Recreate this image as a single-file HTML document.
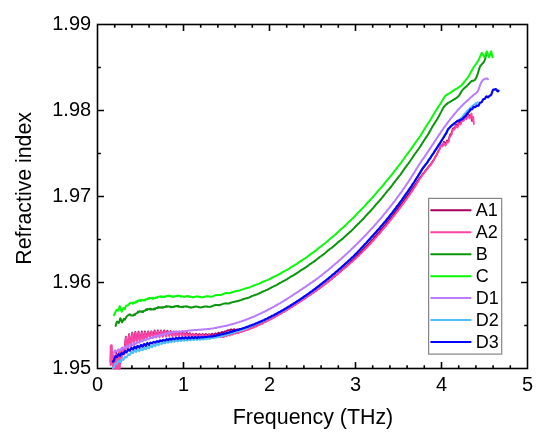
<!DOCTYPE html><html><head><meta charset="utf-8"><style>html,body{margin:0;padding:0;background:#fff;width:550px;height:440px;overflow:hidden}svg{display:block}text{font-family:"Liberation Sans",Arial,sans-serif;fill:#000}</style></head><body>
<svg width="550" height="440" viewBox="0 0 550 440">
<g stroke="#000" stroke-width="1.6" fill="none">
<rect x="97.50" y="24.50" width="430.00" height="344.00"/>
<path d="M114.70 368.50v-3.3M114.70 24.50v3.3M131.90 368.50v-3.3M131.90 24.50v3.3M149.10 368.50v-3.3M149.10 24.50v3.3M166.30 368.50v-3.3M166.30 24.50v3.3M183.50 368.50v-6.5M183.50 24.50v6.5M200.70 368.50v-3.3M200.70 24.50v3.3M217.90 368.50v-3.3M217.90 24.50v3.3M235.10 368.50v-3.3M235.10 24.50v3.3M252.30 368.50v-3.3M252.30 24.50v3.3M269.50 368.50v-6.5M269.50 24.50v6.5M286.70 368.50v-3.3M286.70 24.50v3.3M303.90 368.50v-3.3M303.90 24.50v3.3M321.10 368.50v-3.3M321.10 24.50v3.3M338.30 368.50v-3.3M338.30 24.50v3.3M355.50 368.50v-6.5M355.50 24.50v6.5M372.70 368.50v-3.3M372.70 24.50v3.3M389.90 368.50v-3.3M389.90 24.50v3.3M407.10 368.50v-3.3M407.10 24.50v3.3M424.30 368.50v-3.3M424.30 24.50v3.3M441.50 368.50v-6.5M441.50 24.50v6.5M458.70 368.50v-3.3M458.70 24.50v3.3M475.90 368.50v-3.3M475.90 24.50v3.3M493.10 368.50v-3.3M493.10 24.50v3.3M510.30 368.50v-3.3M510.30 24.50v3.3M97.50 67.50h3.3M527.50 67.50h-3.3M97.50 110.50h6.5M527.50 110.50h-6.5M97.50 153.50h3.3M527.50 153.50h-3.3M97.50 196.50h6.5M527.50 196.50h-6.5M97.50 239.50h3.3M527.50 239.50h-3.3M97.50 282.50h6.5M527.50 282.50h-6.5M97.50 325.50h3.3M527.50 325.50h-3.3"/>
</g>
<g fill="none" stroke-linejoin="round" stroke-linecap="round">
<path d="M116.2 351.9 L117.8 362.6 L119.4 351.1 L121.0 359.9 L122.6 348.3 L124.2 354.1 L125.8 336.6 L127.4 348.8 L129.0 334.1 L130.6 346.0 L132.2 332.7 L133.8 343.7 L135.4 331.9 L137.0 342.0 L138.6 331.7 L140.2 340.6 L141.8 331.4 L143.4 339.2 L145.0 331.4 L146.6 338.3 L148.2 331.4 L149.8 337.2 L151.4 331.3 L153.0 336.6 L154.6 330.4 L156.2 336.5 L157.8 330.4 L159.4 335.7 L161.0 330.4 L162.6 335.8 L164.2 330.3 L165.8 335.4 L167.4 330.6 L169.0 335.3 L170.6 331.0 L172.2 335.1 L173.8 331.4 L175.4 335.0 L177.0 331.5 L178.6 335.3 L180.2 331.9 L181.8 335.2 L183.4 332.3 L185.0 335.2 L186.6 332.6 L188.2 335.1 L189.8 333.1 L191.4 335.5 L193.0 333.6 L194.6 335.4 L196.2 333.6 L197.8 335.3 L199.4 333.9 L201.0 335.5 L202.6 333.8 L204.2 335.4 L205.8 334.0 L207.4 335.3 L209.0 334.1 L210.6 335.1 L212.2 333.6 L213.8 335.0 L215.4 333.4 L217.0 334.2 L218.6 332.6 L220.2 333.5 L221.8 332.0 L222.3 332.0 L223.1 332.3 L223.9 332.4 L224.7 331.3 L225.5 331.4 L226.3 331.5 L227.1 330.7 L227.9 330.2 L228.7 330.1 L229.5 330.7 L230.3 329.8 L231.1 329.3 L231.9 329.9 L232.7 330.4 L233.5 329.3 L234.3 329.2 L235.1 330.0 L235.9 330.2 L236.7 329.4 L237.5 329.3 L238.3 330.2 L239.1 329.3 L239.9 329.1 L240.7 329.2 L241.5 329.3 L242.3 328.9 L243.1 328.7 L243.9 328.8 L244.7 328.7 L245.5 328.4 L246.3 328.1 L247.1 328.1 L247.9 327.9 L248.7 327.4 L249.5 327.3 L250.3 327.3 L251.1 327.0 L251.9 326.5 L252.7 326.4 L253.5 326.4 L254.3 325.9 L255.1 325.4 L255.9 325.4 L256.7 325.2 L257.5 324.6 L258.3 324.3 L259.1 324.2 L259.9 323.9 L260.7 323.4 L261.5 323.0 L262.3 323.0 L263.1 322.4 L263.9 321.9 L264.7 321.7 L265.5 321.5 L266.3 320.9 L267.1 320.3 L267.9 320.3 L268.7 320.0 L269.5 319.3 L270.3 318.9 L271.1 318.7 L271.9 318.3 L272.7 317.7 L273.5 317.3 L274.3 317.1 L275.1 316.6 L275.9 316.0 L276.7 315.6 L277.5 315.4 L278.3 314.7 L279.1 314.2 L279.9 313.9 L280.7 313.6 L281.5 312.9 L282.3 312.3 L283.1 312.1 L283.9 311.7 L284.7 310.9 L285.5 310.5 L286.3 310.2 L287.1 309.6 L287.9 308.9 L288.7 308.7 L289.5 308.3 L290.3 307.6 L291.1 307.0 L291.9 306.8 L292.7 306.2 L293.5 305.6 L294.3 305.1 L295.1 304.8 L295.9 304.3 L296.7 303.6 L297.5 303.0 L298.3 302.7 L299.1 302.1 L299.9 301.4 L300.7 301.1 L301.5 300.6 L302.3 299.9 L303.1 299.2 L303.9 298.9 L304.7 298.6 L305.5 297.8 L306.3 297.2 L307.1 296.8 L307.9 296.3 L308.7 295.6 L309.5 295.1 L310.3 294.9 L311.1 294.2 L311.9 293.4 L312.7 293.0 L313.5 292.7 L314.3 291.8 L315.1 291.2 L315.9 290.8 L316.7 290.4 L317.5 289.6 L318.3 288.9 L319.1 288.5 L319.9 287.9 L320.7 287.2 L321.5 286.6 L322.3 286.2 L323.1 285.5 L323.9 284.7 L324.7 284.3 L325.5 283.9 L326.3 283.0 L327.1 282.3 L327.9 281.9 L328.7 281.4 L329.5 280.5 L330.3 280.0 L331.1 279.5 L331.9 278.8 L332.7 277.9 L333.5 277.3 L334.3 276.8 L335.1 276.0 L335.9 275.2 L336.7 274.7 L337.5 274.1 L338.3 273.2 L339.1 272.3 L339.9 271.8 L340.7 271.2 L341.5 270.3 L342.3 269.6 L343.1 269.0 L343.9 268.3 L344.7 267.5 L345.5 266.7 L346.3 266.1 L347.1 265.3 L347.9 264.3 L348.7 263.8 L349.5 263.3 L350.3 262.3 L351.1 261.4 L351.9 260.7 L352.7 260.1 L353.5 259.1 L354.3 258.3 L355.1 257.7 L355.9 257.0 L356.7 255.9 L357.5 255.1 L358.3 254.6 L359.1 253.7 L359.9 252.7 L360.7 252.0 L361.5 251.4 L362.3 250.4 L363.1 249.3 L363.9 248.7 L364.7 248.0 L365.5 246.9 L366.3 246.0 L367.1 245.4 L367.9 244.6 L368.7 243.6 L369.5 242.8 L370.3 242.1 L371.1 241.2 L371.9 240.1 L372.7 239.4 L373.5 238.6 L374.3 237.4 L375.1 236.4 L375.9 235.7 L376.7 234.9 L377.5 233.8 L378.3 232.9 L379.1 232.2 L379.9 231.2 L380.7 230.0 L381.5 229.2 L382.3 228.3 L383.1 227.3 L383.9 226.2 L384.7 225.4 L385.5 224.6 L386.3 223.4 L387.1 222.2 L387.9 221.5 L388.7 220.5 L389.5 219.4 L390.3 218.4 L391.1 217.5 L391.9 216.4 L392.7 215.3 L393.5 214.3 L394.3 213.3 L395.1 212.2 L395.9 210.9 L396.7 210.2 L397.5 209.3 L398.3 207.9 L399.1 206.8 L399.9 206.0 L400.7 204.9 L401.5 203.6 L402.3 202.5 L403.1 201.5 L403.9 200.4 L404.7 199.2 L405.5 198.1 L406.3 197.2 L407.1 196.0 L407.9 194.6 L408.7 193.7 L409.5 192.8 L410.3 191.4 L411.1 190.1 L411.9 189.2 L412.7 188.3 L413.5 187.0 L414.3 185.8 L415.1 184.9 L415.9 183.7 L416.7 182.5 L417.5 181.2 L418.3 180.3 L419.1 179.1 L419.9 177.8 L420.7 176.7 L421.5 176.0 L422.3 174.6 L423.1 173.4 L423.9 172.7 L424.7 171.7 L425.5 170.6 L426.3 169.5 L427.1 168.6 L427.9 167.8 L428.7 166.5 L429.5 165.7 L430.3 165.0 L431.1 163.8 L431.9 162.4 L432.7 161.4 L433.5 160.3 L434.3 158.8 L435.1 157.1 L435.9 156.0 L436.7 154.6 L437.5 152.8 L438.3 151.3 L439.1 149.9 L439.9 148.4 L440.7 145.9 L441.5 145.2 L442.3 145.9 L443.1 144.3 L443.9 141.8 L444.7 142.9 L445.5 144.7 L446.3 142.4 L447.1 140.4 L447.9 141.2 L448.7 140.6 L449.5 136.5 L450.3 134.3 L451.1 134.4 L451.9 132.1 L452.7 128.8 L453.5 128.1 L454.3 129.0 L455.1 126.8 L455.9 124.3 L456.7 125.3 L457.5 126.4 L458.3 123.9 L459.1 121.6 L459.9 123.1 L460.7 123.3 L461.5 120.6 L462.3 118.9 L463.1 120.4 L463.9 119.7 L464.7 116.7 L465.5 117.0 L466.3 118.3 L467.1 116.3 L467.9 114.2 L468.7 114.7 L469.5 116.4 L470.3 115.5 L471.1 116.2 L471.9 120.8" stroke="#a6005c" stroke-width="1.80"/>
<path d="M110.6 362.0 L110.9 346.0 L111.6 345.5 L112.2 364.0 L112.6 353.0 L113.0 355.2 L114.3 368.6 L115.6 355.1 L116.9 368.3 L118.2 356.0 L119.5 368.8 L120.8 350.9" stroke="#ff44a6" stroke-width="2.30"/>
<path d="M110.5 365.0 L111.1 345.5 L111.7 364.0 L112.3 352.0 L112.9 368.0 L113.2 355.9 L114.8 368.0 L116.4 354.8 L118.0 368.0 L119.6 351.0 L121.2 361.6 L122.8 347.5 L124.4 354.6 L126.0 337.0 L127.6 349.7 L129.2 334.4 L130.8 346.7 L132.4 333.1 L134.0 344.7 L135.6 332.9 L137.2 342.6 L138.8 332.7 L140.4 341.6 L142.0 332.3 L143.6 340.1 L145.2 332.1 L146.8 338.9 L148.4 332.2 L150.0 338.0 L151.6 331.6 L153.2 337.7 L154.8 331.1 L156.4 337.5 L158.0 331.1 L159.6 337.3 L161.2 330.9 L162.8 336.9 L164.4 331.2 L166.0 336.7 L167.6 331.4 L169.2 336.3 L170.8 332.0 L172.4 336.6 L174.0 332.2 L175.6 336.4 L177.2 332.2 L178.8 336.1 L180.4 332.5 L182.0 336.0 L183.6 333.2 L185.2 336.3 L186.8 333.5 L188.4 336.4 L190.0 333.9 L191.6 336.8 L193.2 333.7 L194.8 336.5 L196.4 334.4 L198.0 336.8 L199.6 334.7 L201.2 336.8 L202.8 334.3 L204.4 337.0 L206.0 334.9 L207.6 336.9 L209.2 334.7 L210.8 337.1 L212.4 335.3 L214.0 337.5 L215.6 335.0 L217.2 337.3 L218.8 335.2 L220.4 337.3 L222.0 335.9 L222.3 336.9 L223.1 337.3 L223.9 336.9 L224.7 336.0 L225.5 335.7 L226.3 336.4 L227.1 335.7 L227.9 335.1 L228.7 335.1 L229.5 335.6 L230.3 334.6 L231.1 334.3 L231.9 334.6 L232.7 334.5 L233.5 333.8 L234.3 333.6 L235.1 333.6 L235.9 333.6 L236.7 333.1 L237.5 332.7 L238.3 333.3 L239.1 332.8 L239.9 332.1 L240.7 332.1 L241.5 332.0 L242.3 331.7 L243.1 331.3 L243.9 331.2 L244.7 330.9 L245.5 330.5 L246.3 330.2 L247.1 330.1 L247.9 329.9 L248.7 329.3 L249.5 329.0 L250.3 329.0 L251.1 328.5 L251.9 328.1 L252.7 327.9 L253.5 327.7 L254.3 327.2 L255.1 326.7 L255.9 326.6 L256.7 326.4 L257.5 325.7 L258.3 325.3 L259.1 325.2 L259.9 324.8 L260.7 324.2 L261.5 323.8 L262.3 323.8 L263.1 323.2 L263.9 322.5 L264.7 322.4 L265.5 322.2 L266.3 321.5 L267.1 321.0 L267.9 320.7 L268.7 320.4 L269.5 319.9 L270.3 319.4 L271.1 319.1 L271.9 318.8 L272.7 318.0 L273.5 317.7 L274.3 317.6 L275.1 317.0 L275.9 316.3 L276.7 316.0 L277.5 315.7 L278.3 315.0 L279.1 314.6 L279.9 314.2 L280.7 313.9 L281.5 313.3 L282.3 312.7 L283.1 312.5 L283.9 311.9 L284.7 311.4 L285.5 310.9 L286.3 310.6 L287.1 310.1 L287.9 309.3 L288.7 309.0 L289.5 308.7 L290.3 308.0 L291.1 307.3 L291.9 307.1 L292.7 306.6 L293.5 305.9 L294.3 305.4 L295.1 305.0 L295.9 304.6 L296.7 303.9 L297.5 303.3 L298.3 303.0 L299.1 302.4 L299.9 301.7 L300.7 301.3 L301.5 301.0 L302.3 300.3 L303.1 299.7 L303.9 299.2 L304.7 298.8 L305.5 298.2 L306.3 297.5 L307.1 297.1 L307.9 296.6 L308.7 295.8 L309.5 295.3 L310.3 295.0 L311.1 294.3 L311.9 293.6 L312.7 293.1 L313.5 292.8 L314.3 292.1 L315.1 291.4 L315.9 290.9 L316.7 290.5 L317.5 289.6 L318.3 289.0 L319.1 288.7 L319.9 288.1 L320.7 287.3 L321.5 286.7 L322.3 286.2 L323.1 285.6 L323.9 284.7 L324.7 284.3 L325.5 284.0 L326.3 283.1 L327.1 282.4 L327.9 281.9 L328.7 281.5 L329.5 280.7 L330.3 279.8 L331.1 279.4 L331.9 278.9 L332.7 278.0 L333.5 277.4 L334.3 277.0 L335.1 276.2 L335.9 275.3 L336.7 274.8 L337.5 274.3 L338.3 273.5 L339.1 272.6 L339.9 272.2 L340.7 271.7 L341.5 270.7 L342.3 270.1 L343.1 269.5 L343.9 268.9 L344.7 268.1 L345.5 267.4 L346.3 267.0 L347.1 266.2 L347.9 265.3 L348.7 264.7 L349.5 264.3 L350.3 263.3 L351.1 262.5 L351.9 262.1 L352.7 261.5 L353.5 260.5 L354.3 259.7 L355.1 259.2 L355.9 258.5 L356.7 257.4 L357.5 256.8 L358.3 256.3 L359.1 255.4 L359.9 254.4 L360.7 253.8 L361.5 253.1 L362.3 252.2 L363.1 251.1 L363.9 250.6 L364.7 250.0 L365.5 248.8 L366.3 248.0 L367.1 247.3 L367.9 246.6 L368.7 245.4 L369.5 244.7 L370.3 244.0 L371.1 243.1 L371.9 241.9 L372.7 241.2 L373.5 240.6 L374.3 239.5 L375.1 238.4 L375.9 237.7 L376.7 236.9 L377.5 235.8 L378.3 234.8 L379.1 234.2 L379.9 233.3 L380.7 232.2 L381.5 231.2 L382.3 230.4 L383.1 229.3 L383.9 228.3 L384.7 227.4 L385.5 226.7 L386.3 225.5 L387.1 224.4 L387.9 223.6 L388.7 222.7 L389.5 221.5 L390.3 220.4 L391.1 219.7 L391.9 218.6 L392.7 217.4 L393.5 216.4 L394.3 215.7 L395.1 214.5 L395.9 213.3 L396.7 212.4 L397.5 211.6 L398.3 210.4 L399.1 209.1 L399.9 208.2 L400.7 207.3 L401.5 206.0 L402.3 204.9 L403.1 204.1 L403.9 202.9 L404.7 201.6 L405.5 200.5 L406.3 199.7 L407.1 198.5 L407.9 197.1 L408.7 196.3 L409.5 195.3 L410.3 193.9 L411.1 192.6 L411.9 191.6 L412.7 190.5 L413.5 189.1 L414.3 187.8 L415.1 186.9 L415.9 185.5 L416.7 184.0 L417.5 182.8 L418.3 181.6 L419.1 180.3 L419.9 178.9 L420.7 177.8 L421.5 176.9 L422.3 175.4 L423.1 174.2 L423.9 173.2 L424.7 172.3 L425.5 171.1 L426.3 170.0 L427.1 169.2 L427.9 168.3 L428.7 167.1 L429.5 166.2 L430.3 165.6 L431.1 164.5 L431.9 163.0 L432.7 162.0 L433.5 160.8 L434.3 159.2 L435.1 157.8 L435.9 156.4 L436.7 155.2 L437.5 153.4 L438.3 151.8 L439.1 150.4 L439.9 148.8 L440.7 146.1 L441.5 145.5 L442.3 146.5 L443.1 145.4 L443.9 143.0 L444.7 144.2 L445.5 145.6 L446.3 143.6 L447.1 141.5 L447.9 142.6 L448.7 141.7 L449.5 137.9 L450.3 135.4 L451.1 135.4 L451.9 133.6 L452.7 129.7 L453.5 129.1 L454.3 129.7 L455.1 128.2 L455.9 125.5 L456.7 126.8 L457.5 127.6 L458.3 125.5 L459.1 123.3 L459.9 124.1 L460.7 124.5 L461.5 121.3 L462.3 120.1 L463.1 121.2 L463.9 120.5 L464.7 117.9 L465.5 118.2 L466.3 119.1 L467.1 117.8 L467.9 115.3 L468.7 116.4 L469.5 118.3 L471.5 113.5 L472.5 121.0 L473.3 117.0 L473.8 124.0" stroke="#ff44a6" stroke-width="1.80"/>
<path d="M115.7 325.9 L116.4 323.0 L117.1 321.6 L118.9 323.0 L120.3 318.2 L122.1 322.4 L123.9 318.8 L125.0 319.7 L126.2 317.1 L128.0 315.3 L129.8 314.3 L131.2 315.6 L132.5 315.4 L133.3 315.4 L134.1 314.3 L134.9 315.0 L135.7 313.7 L136.5 313.3 L137.3 312.9 L138.1 311.5 L138.9 312.2 L139.7 311.2 L140.5 311.6 L141.3 311.9 L142.1 311.1 L142.9 312.2 L143.7 311.0 L144.5 310.8 L145.3 310.6 L146.1 309.2 L146.9 310.1 L147.7 308.9 L148.5 309.1 L149.3 309.4 L150.1 308.6 L150.9 309.7 L151.7 309.1 L152.5 309.4 L153.3 309.6 L154.1 308.6 L154.9 309.3 L155.7 308.2 L156.5 308.0 L157.3 308.1 L158.1 307.1 L158.9 307.8 L159.7 307.2 L160.5 307.5 L161.3 307.7 L162.1 307.1 L162.9 307.9 L163.7 307.1 L164.5 307.0 L165.3 307.0 L166.1 306.0 L166.9 306.9 L167.7 306.2 L168.5 306.4 L169.3 306.7 L170.1 306.4 L170.9 307.3 L171.7 306.8 L172.5 306.9 L173.3 307.0 L174.1 306.4 L174.9 306.7 L175.7 306.2 L176.5 306.1 L177.3 306.4 L178.1 305.9 L178.9 306.9 L179.7 306.6 L180.5 306.9 L181.3 307.1 L182.1 306.7 L182.9 307.2 L183.7 306.6 L184.5 306.6 L185.3 306.6 L186.1 306.3 L186.9 306.8 L187.7 306.5 L188.5 307.0 L189.3 307.4 L190.1 307.2 L190.9 307.7 L191.7 307.4 L192.5 307.3 L193.3 307.2 L194.1 306.7 L194.9 306.9 L195.7 306.5 L196.5 306.6 L197.3 306.8 L198.1 306.8 L198.9 307.3 L199.7 307.2 L200.5 307.4 L201.3 307.4 L202.1 307.1 L202.9 307.0 L203.7 306.7 L204.5 306.5 L205.3 306.5 L206.1 306.4 L206.9 306.7 L207.7 306.6 L208.5 306.8 L209.3 306.9 L210.1 306.7 L210.9 306.7 L211.7 306.3 L212.5 306.0 L213.3 305.7 L214.1 305.3 L214.9 305.2 L215.7 305.0 L216.5 305.0 L217.3 305.1 L218.1 305.0 L218.9 305.2 L219.7 305.0 L220.5 304.8 L221.3 304.6 L222.1 304.1 L222.9 303.9 L223.7 303.6 L224.5 303.4 L225.3 303.4 L226.1 303.3 L226.9 303.6 L227.7 303.5 L228.5 303.5 L229.3 303.4 L230.1 302.8 L230.9 302.8 L231.7 302.4 L232.5 302.2 L233.3 302.1 L234.1 301.7 L234.9 301.7 L235.7 301.4 L236.5 301.3 L237.3 301.2 L238.1 300.9 L238.9 300.8 L239.7 300.4 L240.5 300.2 L241.3 299.9 L242.1 299.5 L242.9 299.4 L243.7 299.0 L244.5 298.8 L245.3 298.6 L246.1 298.3 L246.9 298.3 L247.7 297.9 L248.5 297.7 L249.3 297.4 L250.1 296.9 L250.9 296.7 L251.7 296.2 L252.5 295.9 L253.3 295.6 L254.1 295.2 L254.9 295.2 L255.7 294.7 L256.5 294.5 L257.3 294.2 L258.1 293.8 L258.9 293.6 L259.7 293.0 L260.5 292.7 L261.3 292.3 L262.1 291.8 L262.9 291.6 L263.7 291.1 L264.5 290.9 L265.3 290.6 L266.1 290.1 L266.9 290.0 L267.7 289.5 L268.5 289.1 L269.3 288.7 L270.1 288.1 L270.9 287.9 L271.7 287.3 L272.5 286.9 L273.3 286.6 L274.1 286.1 L274.9 285.9 L275.7 285.4 L276.5 285.1 L277.3 284.7 L278.1 284.1 L278.9 283.7 L279.7 283.2 L280.5 282.7 L281.3 282.3 L282.1 281.7 L282.9 281.5 L283.7 280.9 L284.5 280.6 L285.3 280.2 L286.1 279.6 L286.9 279.4 L287.7 278.7 L288.5 278.2 L289.3 277.8 L290.1 277.1 L290.9 276.7 L291.7 276.2 L292.5 275.8 L293.3 275.4 L294.1 274.8 L294.9 274.5 L295.7 273.9 L296.5 273.4 L297.3 272.9 L298.1 272.2 L298.9 271.8 L299.7 271.1 L300.5 270.6 L301.3 270.2 L302.1 269.5 L302.9 269.3 L303.7 268.7 L304.5 268.2 L305.3 267.7 L306.1 267.0 L306.9 266.6 L307.7 265.9 L308.5 265.3 L309.3 264.7 L310.1 264.0 L310.9 263.6 L311.7 263.0 L312.5 262.5 L313.3 262.1 L314.1 261.4 L314.9 261.0 L315.7 260.2 L316.5 259.6 L317.3 259.0 L318.1 258.2 L318.9 257.8 L319.7 257.0 L320.5 256.5 L321.3 256.0 L322.1 255.3 L322.9 254.9 L323.7 254.1 L324.5 253.6 L325.3 252.9 L326.1 252.1 L326.9 251.6 L327.7 250.8 L328.5 250.1 L329.3 249.5 L330.1 248.7 L330.9 248.3 L331.7 247.7 L332.5 247.1 L333.3 246.5 L334.1 245.7 L334.9 245.2 L335.7 244.4 L336.5 243.8 L337.3 243.1 L338.1 242.2 L338.9 241.7 L339.7 240.9 L340.5 240.4 L341.3 239.8 L342.1 239.0 L342.9 238.6 L343.7 237.7 L344.5 237.0 L345.3 236.3 L346.1 235.4 L346.9 234.8 L347.7 233.9 L348.5 233.3 L349.3 232.6 L350.1 231.8 L350.9 231.3 L351.7 230.4 L352.5 229.7 L353.3 229.0 L354.1 228.0 L354.9 227.3 L355.7 226.3 L356.5 225.5 L357.3 224.7 L358.1 223.8 L358.9 223.3 L359.7 222.3 L360.5 221.6 L361.3 220.9 L362.1 219.9 L362.9 219.3 L363.7 218.3 L364.5 217.4 L365.3 216.5 L366.1 215.5 L366.9 214.8 L367.7 213.8 L368.5 213.0 L369.3 212.3 L370.1 211.3 L370.9 210.6 L371.7 209.6 L372.5 208.7 L373.3 207.9 L374.1 206.8 L374.9 206.0 L375.7 204.8 L376.5 204.0 L377.3 203.1 L378.1 202.1 L378.9 201.4 L379.7 200.4 L380.5 199.5 L381.3 198.7 L382.1 197.6 L382.9 196.7 L383.7 195.6 L384.5 194.6 L385.3 193.6 L386.1 192.5 L386.9 191.7 L387.7 190.6 L388.5 189.8 L389.3 188.9 L390.1 187.8 L390.9 187.0 L391.7 185.8 L392.5 184.8 L393.3 183.7 L394.1 182.5 L394.9 181.7 L395.7 180.5 L396.5 179.5 L397.3 178.6 L398.1 177.4 L398.9 176.6 L399.7 175.5 L400.5 174.5 L401.3 173.4 L402.1 172.1 L402.9 171.1 L403.7 169.8 L404.5 168.7 L405.3 167.7 L406.1 166.4 L406.9 165.5 L407.7 164.3 L408.5 163.3 L409.3 162.3 L410.1 161.0 L410.9 160.0 L411.7 158.7 L412.5 157.5 L413.3 156.4 L414.1 155.0 L414.9 154.0 L415.7 152.8 L416.5 151.8 L417.3 150.7 L418.1 149.5 L418.9 148.5 L419.7 147.2 L420.5 146.1 L421.3 144.9 L422.1 143.5 L422.9 142.4 L423.7 141.0 L424.5 139.8 L425.3 138.6 L426.1 137.3 L426.9 136.3 L427.7 134.9 L428.5 133.7 L429.3 132.2 L430.1 130.7 L430.9 129.4 L431.7 127.9 L432.5 126.6 L433.3 125.3 L434.1 123.9 L434.9 122.8 L435.7 121.4 L436.5 120.2 L437.3 119.0 L438.1 117.5 L438.9 116.3 L439.7 114.6 L440.5 113.1 L441.3 111.6 L442.1 109.9 L442.9 108.6 L443.7 107.2 L444.5 106.2 L445.3 105.3 L446.1 104.4 L446.9 104.0 L447.7 103.2 L448.5 102.7 L449.3 102.3 L450.1 101.7 L450.9 101.4 L451.7 100.8 L452.5 100.4 L453.3 99.9 L454.1 99.4 L454.9 99.0 L455.7 98.4 L456.5 97.9 L457.3 97.3 L458.1 96.5 L458.9 95.8 L459.7 94.6 L460.5 93.2 L461.3 91.8 L462.1 90.4 L462.9 89.6 L463.7 88.7 L464.5 88.0 L465.3 87.4 L466.1 86.5 L466.9 86.0 L467.7 85.1 L468.5 84.2 L469.3 83.4 L470.1 82.4 L470.9 81.7 L471.7 80.9 L472.5 80.7 L473.3 80.8 L474.1 80.5 L474.9 80.0 L475.7 78.6 L476.5 77.0 L477.3 75.2 L478.1 72.5 L478.9 69.9 L479.7 67.4 L480.5 65.8 L481.3 64.8 L482.1 63.9 L482.9 63.3 L483.7 62.1 L484.5 60.6 L485.3 58.6 L486.1 54.1 L486.9 54.7" stroke="#0a960a" stroke-width="2.00"/>
<path d="M113.9 315.2 L115.2 312.5 L116.6 309.9 L118.0 310.7 L119.8 306.1 L121.6 311.8 L123.5 307.9 L124.8 309.3 L126.0 305.7 L127.1 305.6 L128.5 304.9 L129.8 303.0 L130.6 303.2 L131.4 303.0 L132.2 302.6 L133.0 303.8 L133.8 302.4 L134.6 302.9 L135.4 302.6 L136.2 301.4 L137.0 302.1 L137.8 300.6 L138.6 300.9 L139.4 300.5 L140.2 299.7 L141.0 300.9 L141.8 299.7 L142.6 300.3 L143.4 300.4 L144.2 299.8 L145.0 300.6 L145.8 299.2 L146.6 299.4 L147.4 299.0 L148.2 298.1 L149.0 298.9 L149.8 297.8 L150.6 298.2 L151.4 298.2 L152.2 297.7 L153.0 299.0 L153.8 297.9 L154.6 298.2 L155.4 298.0 L156.2 297.3 L157.0 297.9 L157.8 296.7 L158.6 296.8 L159.4 296.8 L160.2 296.2 L161.0 297.2 L161.8 296.4 L162.6 297.0 L163.4 297.1 L164.2 296.5 L165.0 297.2 L165.8 296.0 L166.6 296.3 L167.4 296.2 L168.2 295.5 L169.0 296.3 L169.8 295.7 L170.6 296.3 L171.4 296.5 L172.2 296.2 L173.0 297.0 L173.8 296.3 L174.6 296.6 L175.4 296.3 L176.2 295.7 L177.0 296.3 L177.8 295.4 L178.6 295.7 L179.4 296.0 L180.2 296.0 L181.0 296.7 L181.8 296.3 L182.6 296.6 L183.4 296.7 L184.2 296.5 L185.0 296.9 L185.8 296.1 L186.6 296.3 L187.4 296.1 L188.2 296.0 L189.0 296.8 L189.8 296.5 L190.6 296.9 L191.4 297.1 L192.2 297.0 L193.0 297.5 L193.8 296.9 L194.6 297.0 L195.4 296.8 L196.2 296.4 L197.0 296.7 L197.8 296.4 L198.6 296.7 L199.4 296.9 L200.2 297.0 L201.0 297.3 L201.8 297.2 L202.6 297.2 L203.4 297.0 L204.2 296.7 L205.0 296.7 L205.8 296.3 L206.6 296.3 L207.4 296.3 L208.2 296.3 L209.0 296.6 L209.8 296.5 L210.6 296.7 L211.4 296.6 L212.2 296.4 L213.0 296.3 L213.8 295.8 L214.6 295.6 L215.4 295.3 L216.2 295.0 L217.0 295.1 L217.8 294.9 L218.6 295.1 L219.4 295.1 L220.2 294.9 L221.0 295.0 L221.8 294.6 L222.6 294.3 L223.4 294.0 L224.2 293.5 L225.0 293.4 L225.8 293.0 L226.6 293.0 L227.4 293.1 L228.2 293.0 L229.0 293.2 L229.8 293.0 L230.6 292.7 L231.4 292.5 L232.2 292.2 L233.0 292.1 L233.8 291.7 L234.6 291.5 L235.4 291.3 L236.2 291.0 L237.0 291.1 L237.8 290.7 L238.6 290.7 L239.4 290.5 L240.2 290.2 L241.0 290.1 L241.8 289.6 L242.6 289.4 L243.4 289.1 L244.2 288.7 L245.0 288.7 L245.8 288.3 L246.6 288.2 L247.4 287.9 L248.2 287.7 L249.0 287.6 L249.8 287.1 L250.6 286.9 L251.4 286.6 L252.2 286.1 L253.0 286.0 L253.8 285.4 L254.6 285.3 L255.4 284.9 L256.2 284.6 L257.0 284.6 L257.8 284.1 L258.6 283.9 L259.4 283.6 L260.2 283.1 L261.0 283.0 L261.8 282.3 L262.6 282.0 L263.4 281.6 L264.2 281.2 L265.0 281.1 L265.8 280.6 L266.6 280.4 L267.4 280.1 L268.2 279.6 L269.0 279.4 L269.8 278.9 L270.6 278.5 L271.4 278.1 L272.2 277.5 L273.0 277.3 L273.8 276.7 L274.6 276.4 L275.4 276.1 L276.2 275.6 L277.0 275.4 L277.8 274.8 L278.6 274.5 L279.4 274.1 L280.2 273.5 L281.0 273.2 L281.8 272.5 L282.6 272.2 L283.4 271.7 L284.2 271.2 L285.0 271.0 L285.8 270.4 L286.6 270.1 L287.4 269.6 L288.2 269.0 L289.0 268.7 L289.8 268.0 L290.6 267.6 L291.4 267.0 L292.2 266.4 L293.0 266.2 L293.8 265.5 L294.6 265.2 L295.4 264.7 L296.2 264.2 L297.0 263.8 L297.8 263.1 L298.6 262.7 L299.4 262.0 L300.2 261.4 L301.0 261.0 L301.8 260.3 L302.6 259.8 L303.4 259.3 L304.2 258.7 L305.0 258.5 L305.8 257.7 L306.6 257.3 L307.4 256.7 L308.2 255.9 L309.0 255.5 L309.8 254.7 L310.6 254.1 L311.4 253.6 L312.2 253.0 L313.0 252.6 L313.8 251.9 L314.6 251.4 L315.4 250.9 L316.2 250.2 L317.0 249.7 L317.8 248.8 L318.6 248.2 L319.4 247.6 L320.2 246.8 L321.0 246.4 L321.8 245.6 L322.6 245.1 L323.4 244.5 L324.2 243.8 L325.0 243.4 L325.8 242.6 L326.6 241.9 L327.4 241.3 L328.2 240.4 L329.0 239.9 L329.8 239.0 L330.6 238.4 L331.4 237.8 L332.2 237.1 L333.0 236.6 L333.8 235.8 L334.6 235.2 L335.4 234.5 L336.2 233.7 L337.0 233.1 L337.8 232.2 L338.6 231.4 L339.4 230.7 L340.2 229.9 L341.0 229.4 L341.8 228.5 L342.6 228.0 L343.4 227.2 L344.2 226.5 L345.0 225.8 L345.8 224.9 L346.6 224.2 L347.4 223.3 L348.2 222.4 L349.0 221.8 L349.8 220.9 L350.6 220.2 L351.4 219.6 L352.2 218.7 L353.0 218.2 L353.8 217.2 L354.6 216.5 L355.4 215.6 L356.2 214.7 L357.0 214.0 L357.8 212.9 L358.6 212.2 L359.4 211.4 L360.2 210.5 L361.0 209.9 L361.8 208.9 L362.6 208.2 L363.4 207.4 L364.2 206.5 L365.0 205.8 L365.8 204.7 L366.6 203.8 L367.4 203.0 L368.2 201.9 L369.0 201.3 L369.8 200.2 L370.6 199.5 L371.4 198.7 L372.2 197.8 L373.0 197.1 L373.8 195.9 L374.6 195.1 L375.4 194.1 L376.2 193.1 L377.0 192.3 L377.8 191.1 L378.6 190.3 L379.4 189.5 L380.2 188.5 L381.0 187.8 L381.8 186.7 L382.6 185.9 L383.4 184.9 L384.2 183.8 L385.0 183.0 L385.8 181.8 L386.6 180.8 L387.4 179.9 L388.2 178.8 L389.0 178.0 L389.8 177.0 L390.6 176.1 L391.4 175.2 L392.2 174.1 L393.0 173.2 L393.8 171.9 L394.6 170.9 L395.4 169.9 L396.2 168.8 L397.0 167.9 L397.8 166.7 L398.6 165.8 L399.4 164.8 L400.2 163.7 L401.0 162.9 L401.8 161.7 L402.6 160.6 L403.4 159.5 L404.2 158.3 L405.0 157.3 L405.8 156.0 L406.6 155.0 L407.4 153.9 L408.2 152.8 L409.0 152.0 L409.8 150.7 L410.6 149.7 L411.4 148.6 L412.2 147.4 L413.0 146.4 L413.8 144.9 L414.6 143.8 L415.4 142.7 L416.2 141.5 L417.0 140.6 L417.8 139.3 L418.6 138.3 L419.4 137.2 L420.2 136.0 L421.0 134.9 L421.8 133.4 L422.6 132.1 L423.4 130.8 L424.2 129.4 L425.0 128.3 L425.8 126.8 L426.6 125.7 L427.4 124.5 L428.2 123.2 L429.0 122.2 L429.8 120.7 L430.6 119.5 L431.4 118.2 L432.2 116.7 L433.0 115.6 L433.8 114.0 L434.6 112.8 L435.4 111.5 L436.2 110.2 L437.0 109.2 L437.8 107.7 L438.6 106.6 L439.4 105.3 L440.2 104.0 L441.0 102.9 L441.8 101.4 L442.6 100.1 L443.4 98.8 L444.2 97.4 L445.0 96.4 L445.8 95.4 L446.6 94.9 L447.4 94.4 L448.2 93.9 L449.0 93.6 L449.8 92.9 L450.6 92.6 L451.4 92.0 L452.2 91.4 L453.0 91.0 L453.8 90.3 L454.6 89.9 L455.4 89.4 L456.2 88.9 L457.0 88.6 L457.8 87.8 L458.6 87.4 L459.4 86.9 L460.2 86.2 L461.0 85.8 L461.8 84.9 L462.6 84.0 L463.4 83.1 L464.2 81.9 L465.0 81.1 L465.8 79.9 L466.6 79.1 L467.4 78.1 L468.2 76.8 L469.0 75.8 L469.8 74.1 L470.6 72.7 L471.4 71.2 L472.2 69.7 L473.0 68.5 L473.8 67.0 L474.6 66.0 L475.4 64.9 L476.2 63.7 L477.0 62.7 L477.8 61.2 L478.6 59.8 L479.4 58.2 L480.2 56.4 L481.0 54.8 L481.8 52.7 L484.4 57.3 L486.9 51.3 L489.0 57.3 L491.2 51.3 L492.5 57.3" stroke="#08fa08" stroke-width="2.00"/>
<path d="M113.5 354.3 L114.3 351.6 L115.1 350.4 L115.9 350.8 L116.7 351.4 L117.5 350.5 L118.3 349.4 L119.1 349.8 L119.9 350.4 L120.7 349.4 L121.5 348.1 L122.3 348.5 L123.1 349.0 L123.9 348.0 L124.7 346.7 L125.5 347.1 L126.3 347.6 L127.1 346.6 L127.9 345.4 L128.7 345.7 L129.5 346.3 L130.3 345.3 L131.1 344.1 L131.9 344.5 L132.7 345.1 L133.5 344.1 L134.3 342.9 L135.1 343.3 L135.9 343.9 L136.7 343.0 L137.5 341.8 L138.3 342.2 L139.1 342.8 L139.9 341.9 L140.7 341.1 L141.5 341.2 L142.3 341.4 L143.1 340.8 L143.9 340.0 L144.7 340.1 L145.5 340.3 L146.3 339.6 L147.1 338.8 L147.9 338.9 L148.7 339.2 L149.5 338.5 L150.3 337.7 L151.1 337.9 L151.9 338.1 L152.7 337.5 L153.5 336.8 L154.3 336.9 L155.1 337.2 L155.9 336.6 L156.7 335.8 L157.5 336.0 L158.3 336.2 L159.1 335.6 L159.9 334.9 L160.7 335.0 L161.5 335.3 L162.3 334.7 L163.1 334.0 L163.9 334.2 L164.7 334.5 L165.5 333.9 L166.3 333.2 L167.1 333.4 L167.9 333.7 L168.7 333.1 L169.5 332.5 L170.3 332.7 L171.1 333.0 L171.9 332.5 L172.7 331.9 L173.5 332.1 L174.3 332.5 L175.1 332.1 L175.9 331.5 L176.7 331.8 L177.5 332.2 L178.3 331.8 L179.1 331.2 L179.9 331.5 L180.7 332.0 L181.5 331.5 L182.3 331.0 L183.1 331.3 L183.9 331.7 L184.7 331.2 L185.5 331.0 L186.3 331.0 L187.1 331.0 L187.9 330.8 L188.7 330.6 L189.5 330.6 L190.3 330.6 L191.1 330.5 L191.9 330.3 L192.7 330.3 L193.5 330.3 L194.3 330.1 L195.1 330.0 L195.9 330.0 L196.7 330.0 L197.5 329.9 L198.3 329.7 L199.1 329.7 L199.9 329.8 L200.7 329.7 L201.5 329.5 L202.3 329.5 L203.1 329.6 L203.9 329.4 L204.7 329.2 L205.5 329.3 L206.3 329.3 L207.1 329.1 L207.9 329.0 L208.7 329.0 L209.5 329.0 L210.3 328.8 L211.1 328.6 L211.9 328.6 L212.7 328.6 L213.5 328.4 L214.3 328.1 L215.1 328.1 L215.9 328.0 L216.7 327.7 L217.5 327.4 L218.3 327.3 L219.1 327.3 L219.9 327.0 L220.7 326.8 L221.5 326.7 L222.3 326.6 L223.1 326.4 L223.9 326.2 L224.7 326.1 L225.5 326.0 L226.3 325.8 L227.1 325.5 L227.9 325.3 L228.7 325.2 L229.5 324.9 L230.3 324.6 L231.1 324.5 L231.9 324.3 L232.7 324.0 L233.5 323.7 L234.3 323.5 L235.1 323.4 L235.9 323.1 L236.7 322.7 L237.5 322.6 L238.3 322.4 L239.1 322.1 L239.9 321.7 L240.7 321.6 L241.5 321.4 L242.3 321.0 L243.1 320.7 L243.9 320.5 L244.7 320.3 L245.5 319.9 L246.3 319.5 L247.1 319.3 L247.9 319.1 L248.7 318.7 L249.5 318.3 L250.3 318.0 L251.1 317.8 L251.9 317.4 L252.7 317.0 L253.5 316.7 L254.3 316.5 L255.1 316.0 L255.9 315.6 L256.7 315.3 L257.5 315.0 L258.3 314.6 L259.1 314.1 L259.9 313.8 L260.7 313.6 L261.5 313.1 L262.3 312.6 L263.1 312.3 L263.9 312.0 L264.7 311.5 L265.5 311.0 L266.3 310.7 L267.1 310.4 L267.9 309.9 L268.7 309.4 L269.5 309.0 L270.3 308.7 L271.1 308.2 L271.9 307.7 L272.7 307.3 L273.5 307.0 L274.3 306.5 L275.1 305.9 L275.9 305.5 L276.7 305.2 L277.5 304.6 L278.3 304.1 L279.1 303.7 L279.9 303.3 L280.7 302.8 L281.5 302.2 L282.3 301.8 L283.1 301.4 L283.9 300.9 L284.7 300.3 L285.5 299.8 L286.3 299.5 L287.1 298.9 L287.9 298.3 L288.7 297.8 L289.5 297.4 L290.3 296.8 L291.1 296.2 L291.9 295.8 L292.7 295.4 L293.5 294.8 L294.3 294.1 L295.1 293.7 L295.9 293.2 L296.7 292.6 L297.5 292.0 L298.3 291.5 L299.1 291.1 L299.9 290.4 L300.7 289.8 L301.5 289.4 L302.3 289.0 L303.1 288.4 L303.9 287.7 L304.7 287.3 L305.5 286.8 L306.3 286.2 L307.1 285.6 L307.9 285.1 L308.7 284.7 L309.5 284.0 L310.3 283.4 L311.1 282.9 L311.9 282.4 L312.7 281.8 L313.5 281.1 L314.3 280.6 L315.1 280.2 L315.9 279.5 L316.7 278.8 L317.5 278.3 L318.3 277.8 L319.1 277.2 L319.9 276.5 L320.7 275.9 L321.5 275.4 L322.3 274.7 L323.1 274.0 L323.9 273.4 L324.7 272.8 L325.5 272.1 L326.3 271.4 L327.1 270.8 L327.9 270.2 L328.7 269.5 L329.5 268.7 L330.3 268.1 L331.1 267.6 L331.9 266.8 L332.7 266.0 L333.5 265.4 L334.3 264.8 L335.1 264.1 L335.9 263.3 L336.7 262.7 L337.5 262.1 L338.3 261.3 L339.1 260.5 L339.9 259.9 L340.7 259.3 L341.5 258.5 L342.3 257.6 L343.1 257.0 L343.9 256.4 L344.7 255.6 L345.5 254.7 L346.3 254.1 L347.1 253.4 L347.9 252.6 L348.7 251.8 L349.5 251.1 L350.3 250.4 L351.1 249.6 L351.9 248.7 L352.7 248.0 L353.5 247.4 L354.3 246.5 L355.1 245.6 L355.9 244.9 L356.7 244.3 L357.5 243.4 L358.3 242.5 L359.1 241.8 L359.9 241.1 L360.7 240.2 L361.5 239.3 L362.3 238.5 L363.1 237.8 L363.9 236.9 L364.7 236.0 L365.5 235.2 L366.3 234.5 L367.1 233.5 L367.9 232.6 L368.7 231.8 L369.5 231.0 L370.3 230.1 L371.1 229.1 L371.9 228.3 L372.7 227.5 L373.5 226.6 L374.3 225.6 L375.1 224.8 L375.9 224.0 L376.7 223.0 L377.5 222.0 L378.3 221.1 L379.1 220.3 L379.9 219.3 L380.7 218.3 L381.5 217.4 L382.3 216.6 L383.1 215.5 L383.9 214.5 L384.7 213.6 L385.5 212.7 L386.3 211.6 L387.1 210.6 L387.9 209.6 L388.7 208.7 L389.5 207.7 L390.3 206.6 L391.1 205.6 L391.9 204.7 L392.7 203.6 L393.5 202.4 L394.3 201.5 L395.1 200.5 L395.9 199.4 L396.7 198.2 L397.5 197.2 L398.3 196.2 L399.1 195.1 L399.9 193.9 L400.7 192.8 L401.5 191.8 L402.3 190.6 L403.1 189.3 L403.9 188.3 L404.7 187.2 L405.5 186.0 L406.3 184.7 L407.1 183.6 L407.9 182.5 L408.7 181.2 L409.5 179.9 L410.3 178.7 L411.1 177.6 L411.9 176.3 L412.7 174.9 L413.5 173.7 L414.3 172.6 L415.1 171.2 L415.9 169.8 L416.7 168.5 L417.5 167.3 L418.3 166.0 L419.1 164.6 L419.9 163.5 L420.7 162.4 L421.5 161.1 L422.3 159.8 L423.1 158.8 L423.9 157.7 L424.7 156.6 L425.5 155.3 L426.3 154.2 L427.1 153.0 L427.9 151.8 L428.7 150.4 L429.5 149.3 L430.3 148.2 L431.1 146.9 L431.9 145.6 L432.7 144.5 L433.5 143.4 L434.3 142.1 L435.1 140.8 L435.9 139.6 L436.7 138.5 L437.5 137.2 L438.3 135.9 L439.1 134.8 L439.9 133.7 L440.7 132.4 L441.5 131.1 L442.3 130.1 L443.1 129.0 L443.9 127.8 L444.7 126.6 L445.5 125.6 L446.3 124.6 L447.1 123.4 L447.9 122.2 L448.7 121.2 L449.5 120.3 L450.3 119.1 L451.1 118.0 L451.9 117.1 L452.7 116.2 L453.5 115.1 L454.3 114.0 L455.1 113.2 L455.9 112.3 L456.7 111.3 L457.5 110.3 L458.3 109.5 L459.1 108.7 L459.9 107.8 L460.7 106.8 L461.5 106.1 L462.3 105.4 L463.1 104.5 L463.9 103.6 L464.7 103.0 L465.5 102.3 L466.3 101.5 L467.1 100.7 L467.9 100.1 L468.7 99.4 L469.5 98.7 L470.3 97.8 L471.1 97.2 L471.9 96.6 L472.7 95.8 L473.5 95.0 L474.3 94.4 L475.1 93.9 L475.9 93.3 L476.7 92.6 L477.5 91.7 L478.3 90.2 L479.1 88.0 L479.9 85.7 L480.7 83.7 L481.5 82.0 L482.3 80.8 L483.1 79.9 L483.9 79.4 L484.7 79.1 L485.5 78.8 L486.3 78.5 L487.1 78.6 L487.9 79.3" stroke="#b97bff" stroke-width="2.00"/>
<path d="M113.0 367.8 L113.8 367.5 L114.6 365.2 L115.4 363.6 L116.2 363.9 L117.0 363.7 L117.8 361.7 L118.6 360.6 L119.4 361.5 L120.2 361.8 L121.0 360.1 L121.8 359.0 L122.6 359.8 L123.4 359.9 L124.2 358.0 L125.0 356.8 L125.8 357.5 L126.6 357.6 L127.4 355.7 L128.2 354.4 L129.0 355.0 L129.8 355.0 L130.6 353.1 L131.4 351.9 L132.2 352.8 L133.0 353.0 L133.8 351.4 L134.6 350.4 L135.4 351.5 L136.2 351.9 L137.0 350.4 L137.8 349.6 L138.6 350.7 L139.4 351.1 L140.2 349.6 L141.0 348.8 L141.8 349.9 L142.6 350.3 L143.4 348.7 L144.2 347.8 L145.0 348.9 L145.8 349.2 L146.6 347.7 L147.4 346.8 L148.2 347.8 L149.0 348.2 L149.8 346.6 L150.6 345.7 L151.4 346.8 L152.2 347.2 L153.0 345.6 L153.8 344.7 L154.6 345.7 L155.4 346.1 L156.2 344.6 L157.0 343.7 L157.8 344.7 L158.6 345.2 L159.4 343.7 L160.2 343.2 L161.0 343.8 L161.8 343.9 L162.6 343.0 L163.4 342.5 L164.2 343.1 L165.0 343.3 L165.8 342.4 L166.6 341.9 L167.4 342.5 L168.2 342.7 L169.0 341.8 L169.8 341.4 L170.6 341.9 L171.4 342.2 L172.2 341.3 L173.0 340.9 L173.8 341.5 L174.6 341.7 L175.4 340.9 L176.2 340.5 L177.0 341.1 L177.8 341.3 L178.6 340.5 L179.4 340.1 L180.2 340.7 L181.0 341.0 L181.8 340.2 L182.6 339.8 L183.4 340.4 L184.2 340.7 L185.0 340.0 L185.8 339.6 L186.6 340.2 L187.4 340.5 L188.2 339.7 L189.0 339.3 L189.8 340.0 L190.6 340.3 L191.4 339.5 L192.2 339.1 L193.0 339.8 L193.8 340.1 L194.6 339.3 L195.4 338.9 L196.2 339.6 L197.0 339.9 L197.8 339.2 L198.6 338.8 L199.4 339.5 L200.2 339.8 L201.0 339.1 L201.8 338.7 L202.6 339.3 L203.4 339.6 L204.2 338.9 L205.0 338.4 L205.8 339.0 L206.6 339.3 L207.4 338.5 L208.2 338.1 L209.0 338.7 L209.8 338.9 L210.6 338.2 L211.4 338.0 L212.2 338.0 L213.0 338.0 L213.8 337.7 L214.6 337.6 L215.4 337.5 L216.2 337.5 L217.0 337.2 L217.8 336.9 L218.6 336.9 L219.4 336.8 L220.2 336.5 L221.0 336.2 L221.8 336.1 L222.6 336.0 L223.4 335.6 L224.2 335.3 L225.0 335.2 L225.8 335.1 L226.6 334.7 L227.4 334.4 L228.2 334.3 L229.0 334.1 L229.8 333.8 L230.6 333.5 L231.4 333.3 L232.2 333.1 L233.0 332.7 L233.8 332.4 L234.6 332.3 L235.4 332.1 L236.2 331.7 L237.0 331.4 L237.8 331.2 L238.6 331.0 L239.4 330.7 L240.2 330.3 L241.0 330.2 L241.8 330.0 L242.6 329.6 L243.4 329.2 L244.2 329.0 L245.0 328.8 L245.8 328.4 L246.6 328.0 L247.4 327.8 L248.2 327.6 L249.0 327.2 L249.8 326.8 L250.6 326.6 L251.4 326.3 L252.2 325.9 L253.0 325.5 L253.8 325.3 L254.6 325.0 L255.4 324.5 L256.2 324.1 L257.0 323.9 L257.8 323.6 L258.6 323.1 L259.4 322.7 L260.2 322.4 L261.0 322.1 L261.8 321.6 L262.6 321.2 L263.4 320.9 L264.2 320.6 L265.0 320.1 L265.8 319.6 L266.6 319.4 L267.4 319.0 L268.2 318.5 L269.0 318.0 L269.8 317.7 L270.6 317.4 L271.4 316.8 L272.2 316.4 L273.0 316.1 L273.8 315.7 L274.6 315.1 L275.4 314.6 L276.2 314.3 L277.0 313.9 L277.8 313.4 L278.6 312.9 L279.4 312.5 L280.2 312.1 L281.0 311.6 L281.8 311.0 L282.6 310.7 L283.4 310.3 L284.2 309.7 L285.0 309.2 L285.8 308.8 L286.6 308.4 L287.4 307.8 L288.2 307.2 L289.0 306.9 L289.8 306.4 L290.6 305.8 L291.4 305.2 L292.2 304.9 L293.0 304.4 L293.8 303.8 L294.6 303.2 L295.4 302.8 L296.2 302.3 L297.0 301.7 L297.8 301.1 L298.6 300.7 L299.4 300.2 L300.2 299.6 L301.0 299.0 L301.8 298.6 L302.6 298.1 L303.4 297.4 L304.2 296.8 L305.0 296.3 L305.8 295.8 L306.6 295.2 L307.4 294.5 L308.2 294.1 L309.0 293.6 L309.8 292.9 L310.6 292.2 L311.4 291.8 L312.2 291.3 L313.0 290.6 L313.8 289.9 L314.6 289.4 L315.4 288.9 L316.2 288.2 L317.0 287.5 L317.8 287.0 L318.6 286.5 L319.4 285.7 L320.2 285.1 L321.0 284.6 L321.8 284.0 L322.6 283.3 L323.4 282.6 L324.2 282.0 L325.0 281.5 L325.8 280.7 L326.6 280.0 L327.4 279.5 L328.2 278.9 L329.0 278.1 L329.8 277.4 L330.6 276.9 L331.4 276.3 L332.2 275.5 L333.0 274.7 L333.8 274.2 L334.6 273.6 L335.4 272.8 L336.2 272.0 L337.0 271.5 L337.8 270.8 L338.6 270.0 L339.4 269.3 L340.2 268.7 L341.0 268.0 L341.8 267.2 L342.6 266.4 L343.4 265.8 L344.2 265.2 L345.0 264.3 L345.8 263.5 L346.6 262.9 L347.4 262.3 L348.2 261.4 L349.0 260.6 L349.8 260.0 L350.6 259.3 L351.4 258.4 L352.2 257.6 L353.0 256.9 L353.8 256.2 L354.6 255.3 L355.4 254.5 L356.2 253.8 L357.0 253.0 L357.8 252.0 L358.6 251.2 L359.4 250.4 L360.2 249.6 L361.0 248.7 L361.8 247.8 L362.6 247.0 L363.4 246.2 L364.2 245.2 L365.0 244.3 L365.8 243.5 L366.6 242.7 L367.4 241.7 L368.2 240.8 L369.0 240.0 L369.8 239.1 L370.6 238.2 L371.4 237.2 L372.2 236.5 L373.0 235.7 L373.8 234.6 L374.6 233.7 L375.4 232.9 L376.2 232.1 L377.0 231.1 L377.8 230.1 L378.6 229.3 L379.4 228.4 L380.2 227.4 L381.0 226.4 L381.8 225.6 L382.6 224.7 L383.4 223.6 L384.2 222.6 L385.0 221.7 L385.8 220.8 L386.6 219.7 L387.4 218.7 L388.2 217.8 L389.0 216.9 L389.8 215.8 L390.6 214.7 L391.4 213.8 L392.2 212.8 L393.0 211.7 L393.8 210.6 L394.6 209.7 L395.4 208.7 L396.2 207.5 L397.0 206.4 L397.8 205.4 L398.6 204.4 L399.4 203.2 L400.2 202.1 L401.0 201.1 L401.8 200.0 L402.6 198.8 L403.4 197.6 L404.2 196.6 L405.0 195.5 L405.8 194.3 L406.6 193.1 L407.4 192.1 L408.2 191.0 L409.0 189.8 L409.8 188.6 L410.6 187.5 L411.4 186.4 L412.2 185.1 L413.0 183.9 L413.8 182.8 L414.6 181.7 L415.4 180.3 L416.2 179.0 L417.0 177.8 L417.8 176.6 L418.6 175.2 L419.4 173.9 L420.2 172.8 L421.0 171.5 L421.8 170.1 L422.6 168.8 L423.4 167.7 L424.2 166.5 L425.0 165.3 L425.8 164.0 L426.6 163.0 L427.4 161.9 L428.2 160.6 L429.0 159.4 L429.8 158.4 L430.6 157.3 L431.4 156.0 L432.2 154.8 L433.0 153.8 L433.8 152.7 L434.6 151.4 L435.4 150.1 L436.2 149.0 L437.0 147.9 L437.8 146.5 L438.6 145.1 L439.4 144.0 L440.2 142.7 L441.0 141.2 L441.8 139.8 L442.6 138.6 L443.4 137.3 L444.2 135.9 L445.0 134.5 L445.8 133.3 L446.6 132.1 L447.4 130.7 L448.2 129.5 L449.0 128.5 L449.8 127.6 L450.6 126.6 L451.4 125.7 L452.2 125.1 L453.0 124.4 L453.8 123.7 L454.6 123.0 L455.4 122.5 L456.2 122.0 L457.0 121.2 L457.8 120.6 L458.6 120.3 L459.4 119.8 L460.2 119.1 L461.0 118.3 L461.8 117.5 L462.6 116.6 L463.4 115.5 L464.2 114.4 L465.0 113.5 L465.8 112.6 L466.6 111.6 L467.4 110.7 L468.2 110.1 L469.0 109.4 L469.8 108.5 L470.6 107.6 L471.4 107.0 L472.2 106.3 L473.0 105.5 L473.8 104.8 L474.6 104.3 L475.4 103.8 L476.2 103.1 L477.0 102.6 L477.8 102.2" stroke="#4cbfff" stroke-width="2.00"/>
<path d="M113.0 361.5 L113.8 360.9 L114.6 358.2 L115.4 356.3 L116.2 357.0 L117.0 357.1 L117.8 355.2 L118.6 354.1 L119.4 355.3 L120.2 355.7 L121.0 353.9 L121.8 352.8 L122.6 353.9 L123.4 354.2 L124.2 352.2 L125.0 351.0 L125.8 352.1 L126.6 352.4 L127.4 350.5 L128.2 349.3 L129.0 350.4 L129.8 350.7 L130.6 348.9 L131.4 347.8 L132.2 349.0 L133.0 349.5 L133.8 347.7 L134.6 346.7 L135.4 348.0 L136.2 348.5 L137.0 346.8 L137.8 345.8 L138.6 347.1 L139.4 347.6 L140.2 345.9 L141.0 344.9 L141.8 346.2 L142.6 346.7 L143.4 345.0 L144.2 344.0 L145.0 345.3 L145.8 345.8 L146.6 344.0 L147.4 343.0 L148.2 344.3 L149.0 344.8 L149.8 343.1 L150.6 342.6 L151.4 343.2 L152.2 343.4 L153.0 342.4 L153.8 341.8 L154.6 342.4 L155.4 342.6 L156.2 341.6 L157.0 341.1 L157.8 341.7 L158.6 341.9 L159.4 341.0 L160.2 340.4 L161.0 341.0 L161.8 341.3 L162.6 340.4 L163.4 339.8 L164.2 340.5 L165.0 340.7 L165.8 339.8 L166.6 339.2 L167.4 339.9 L168.2 340.2 L169.0 339.2 L169.8 338.7 L170.6 339.4 L171.4 339.7 L172.2 338.8 L173.0 338.3 L173.8 339.0 L174.6 339.3 L175.4 338.4 L176.2 337.9 L177.0 338.6 L177.8 339.0 L178.6 338.1 L179.4 337.6 L180.2 338.4 L181.0 338.7 L181.8 337.9 L182.6 337.4 L183.4 338.2 L184.2 338.5 L185.0 337.7 L185.8 337.3 L186.6 338.0 L187.4 338.4 L188.2 337.6 L189.0 337.2 L189.8 338.0 L190.6 338.3 L191.4 337.5 L192.2 337.1 L193.0 337.9 L193.8 338.2 L194.6 337.4 L195.4 337.0 L196.2 337.7 L197.0 338.1 L197.8 337.3 L198.6 336.8 L199.4 337.6 L200.2 337.5 L201.0 337.3 L201.8 337.2 L202.6 337.3 L203.4 337.3 L204.2 337.1 L205.0 336.9 L205.8 337.0 L206.6 337.0 L207.4 336.8 L208.2 336.6 L209.0 336.7 L209.8 336.7 L210.6 336.4 L211.4 336.3 L212.2 336.3 L213.0 336.3 L213.8 336.0 L214.6 335.8 L215.4 335.8 L216.2 335.7 L217.0 335.3 L217.8 335.1 L218.6 335.1 L219.4 334.9 L220.2 334.6 L221.0 334.4 L221.8 334.3 L222.6 334.2 L223.4 333.9 L224.2 333.6 L225.0 333.6 L225.8 333.4 L226.6 333.1 L227.4 332.8 L228.2 332.7 L229.0 332.6 L229.8 332.2 L230.6 331.9 L231.4 331.8 L232.2 331.7 L233.0 331.3 L233.8 331.0 L234.6 330.9 L235.4 330.7 L236.2 330.3 L237.0 330.0 L237.8 329.9 L238.6 329.8 L239.4 329.4 L240.2 329.1 L241.0 329.0 L241.8 328.8 L242.6 328.4 L243.4 328.0 L244.2 327.9 L245.0 327.7 L245.8 327.3 L246.6 326.9 L247.4 326.8 L248.2 326.6 L249.0 326.1 L249.8 325.8 L250.6 325.6 L251.4 325.4 L252.2 324.9 L253.0 324.5 L253.8 324.4 L254.6 324.1 L255.4 323.7 L256.2 323.3 L257.0 323.1 L257.8 322.8 L258.6 322.3 L259.4 321.9 L260.2 321.7 L261.0 321.4 L261.8 320.9 L262.6 320.5 L263.4 320.3 L264.2 320.0 L265.0 319.4 L265.8 319.0 L266.6 318.8 L267.4 318.5 L268.2 317.9 L269.0 317.4 L269.8 317.2 L270.6 316.9 L271.4 316.3 L272.2 315.8 L273.0 315.6 L273.8 315.2 L274.6 314.7 L275.4 314.2 L276.2 313.9 L277.0 313.5 L277.8 312.9 L278.6 312.4 L279.4 312.1 L280.2 311.8 L281.0 311.2 L281.8 310.6 L282.6 310.3 L283.4 310.0 L284.2 309.3 L285.0 308.8 L285.8 308.5 L286.6 308.1 L287.4 307.4 L288.2 306.9 L289.0 306.6 L289.8 306.1 L290.6 305.5 L291.4 304.9 L292.2 304.6 L293.0 304.1 L293.8 303.5 L294.6 302.9 L295.4 302.5 L296.2 302.1 L297.0 301.4 L297.8 300.8 L298.6 300.5 L299.4 300.0 L300.2 299.3 L301.0 298.7 L301.8 298.3 L302.6 297.8 L303.4 297.1 L304.2 296.5 L305.0 296.1 L305.8 295.6 L306.6 294.9 L307.4 294.3 L308.2 293.9 L309.0 293.4 L309.8 292.6 L310.6 292.0 L311.4 291.6 L312.2 291.1 L313.0 290.3 L313.8 289.7 L314.6 289.2 L315.4 288.7 L316.2 287.9 L317.0 287.3 L317.8 286.8 L318.6 286.3 L319.4 285.5 L320.2 284.8 L321.0 284.3 L321.8 283.8 L322.6 283.0 L323.4 282.3 L324.2 281.8 L325.0 281.3 L325.8 280.5 L326.6 279.8 L327.4 279.3 L328.2 278.7 L329.0 277.9 L329.8 277.2 L330.6 276.7 L331.4 276.1 L332.2 275.2 L333.0 274.5 L333.8 274.0 L334.6 273.4 L335.4 272.6 L336.2 271.8 L337.0 271.3 L337.8 270.6 L338.6 269.8 L339.4 269.0 L340.2 268.5 L341.0 267.8 L341.8 267.0 L342.6 266.2 L343.4 265.6 L344.2 265.0 L345.0 264.1 L345.8 263.3 L346.6 262.7 L347.4 262.1 L348.2 261.2 L349.0 260.4 L349.8 259.8 L350.6 259.1 L351.4 258.2 L352.2 257.4 L353.0 256.8 L353.8 256.1 L354.6 255.2 L355.4 254.3 L356.2 253.6 L357.0 252.9 L357.8 251.9 L358.6 251.0 L359.4 250.3 L360.2 249.5 L361.0 248.6 L361.8 247.6 L362.6 246.9 L363.4 246.1 L364.2 245.1 L365.0 244.2 L365.8 243.5 L366.6 242.7 L367.4 241.6 L368.2 240.7 L369.0 239.9 L369.8 239.1 L370.6 238.1 L371.4 237.2 L372.2 236.4 L373.0 235.6 L373.8 234.6 L374.6 233.7 L375.4 232.9 L376.2 232.1 L377.0 231.0 L377.8 230.1 L378.6 229.3 L379.4 228.5 L380.2 227.4 L381.0 226.4 L381.8 225.6 L382.6 224.7 L383.4 223.6 L384.2 222.6 L385.0 221.8 L385.8 220.9 L386.6 219.8 L387.4 218.7 L388.2 217.9 L389.0 217.0 L389.8 215.8 L390.6 214.7 L391.4 213.9 L392.2 212.9 L393.0 211.8 L393.8 210.6 L394.6 209.8 L395.4 208.8 L396.2 207.6 L397.0 206.4 L397.8 205.5 L398.6 204.5 L399.4 203.3 L400.2 202.1 L401.0 201.1 L401.8 200.1 L402.6 198.8 L403.4 197.6 L404.2 196.6 L405.0 195.5 L405.8 194.3 L406.6 193.1 L407.4 192.1 L408.2 191.0 L409.0 189.7 L409.8 188.5 L410.6 187.5 L411.4 186.3 L412.2 185.0 L413.0 183.7 L413.8 182.7 L414.6 181.5 L415.4 180.1 L416.2 178.8 L417.0 177.6 L417.8 176.4 L418.6 175.0 L419.4 173.6 L420.2 172.5 L421.0 171.2 L421.8 169.8 L422.6 168.5 L423.4 167.5 L424.2 166.5 L425.0 165.4 L425.8 164.3 L426.6 163.4 L427.4 162.3 L428.2 161.0 L429.0 159.7 L429.8 158.7 L430.6 157.6 L431.4 156.2 L432.2 155.0 L433.0 153.9 L433.8 152.8 L434.6 151.4 L435.4 150.1 L436.2 149.0 L437.0 147.9 L437.8 146.5 L438.6 145.2 L439.4 144.1 L440.2 143.0 L441.0 141.6 L441.8 140.2 L442.6 139.1 L443.4 137.9 L444.2 136.5 L445.0 135.2 L445.8 134.0 L446.6 132.6 L447.4 130.6 L448.2 129.1 L449.0 128.3 L449.8 127.5 L450.6 126.6 L451.4 125.8 L452.2 125.2 L453.0 124.6 L453.8 123.8 L454.6 123.1 L455.4 122.6 L456.2 122.0 L457.0 121.3 L457.8 120.8 L458.6 120.7 L459.4 120.5 L460.2 120.0 L461.0 119.6 L461.8 119.4 L462.6 118.8 L463.4 117.9 L464.2 117.1 L465.0 116.4 L465.8 115.6 L466.6 114.5 L467.4 113.4 L468.2 112.6 L469.0 111.7 L469.8 110.7 L470.6 109.2 L471.4 109.4 L472.2 109.2 L473.0 107.8 L473.8 106.8 L474.6 107.2 L475.4 107.2 L476.2 106.1 L477.0 105.4 L477.8 105.8 L478.6 105.6 L479.4 103.9 L480.2 102.5 L481.0 102.5 L481.8 102.1 L482.6 100.3 L483.4 99.0 L484.2 99.0 L485.0 98.7 L485.8 97.1 L486.6 96.3 L487.4 97.0 L488.2 97.4 L489.0 96.4 L489.8 95.5 L490.6 95.4 L491.4 94.5 L492.2 91.9 L493.0 89.9 L493.8 89.6 L494.6 89.7 L495.4 89.0 L496.2 89.2 L497.0 90.7 L497.8 91.4 L498.6 90.7" stroke="#0404fa" stroke-width="2.20"/>
</g>
<text x="97.50" y="391" font-size="20" text-anchor="middle">0</text>
<text x="183.50" y="391" font-size="20" text-anchor="middle">1</text>
<text x="269.50" y="391" font-size="20" text-anchor="middle">2</text>
<text x="355.50" y="391" font-size="20" text-anchor="middle">3</text>
<text x="441.50" y="391" font-size="20" text-anchor="middle">4</text>
<text x="527.50" y="391" font-size="20" text-anchor="middle">5</text>
<text x="91.2" y="30.10" font-size="20" text-anchor="end">1.99</text>
<text x="91.2" y="116.10" font-size="20" text-anchor="end">1.98</text>
<text x="91.2" y="202.10" font-size="20" text-anchor="end">1.97</text>
<text x="91.2" y="288.10" font-size="20" text-anchor="end">1.96</text>
<text x="91.2" y="374.10" font-size="20" text-anchor="end">1.95</text>
<text transform="translate(313.0 424.4) scale(0.96 1)" font-size="22.3" text-anchor="middle">Frequency (THz)</text>
<text transform="translate(31.2 188.4) rotate(-90) scale(0.955 1)" font-size="22.3" text-anchor="middle">Refractive index</text>
<rect x="428.6" y="198.4" width="73.1" height="155.7" fill="#fff" stroke="#858585" stroke-width="1.2"/>
<path d="M431.2 210.25H470.6" stroke="#a6005c" stroke-width="2.0" stroke-linecap="round"/>
<text x="475.7" y="216.35" font-size="18">A1</text>
<path d="M431.2 232.21H470.6" stroke="#ff44a6" stroke-width="2.0" stroke-linecap="round"/>
<text x="475.7" y="238.31" font-size="18">A2</text>
<path d="M431.2 254.17H470.6" stroke="#0a960a" stroke-width="2.0" stroke-linecap="round"/>
<text x="475.7" y="260.27" font-size="18">B</text>
<path d="M431.2 276.13H470.6" stroke="#08fa08" stroke-width="2.0" stroke-linecap="round"/>
<text x="475.7" y="282.23" font-size="18">C</text>
<path d="M431.2 298.09H470.6" stroke="#b97bff" stroke-width="2.0" stroke-linecap="round"/>
<text x="475.7" y="304.19" font-size="18">D1</text>
<path d="M431.2 320.05H470.6" stroke="#4cbfff" stroke-width="2.0" stroke-linecap="round"/>
<text x="475.7" y="326.15" font-size="18">D2</text>
<path d="M431.2 342.01H470.6" stroke="#0404fa" stroke-width="2.0" stroke-linecap="round"/>
<text x="475.7" y="348.11" font-size="18">D3</text>
</svg></body></html>
